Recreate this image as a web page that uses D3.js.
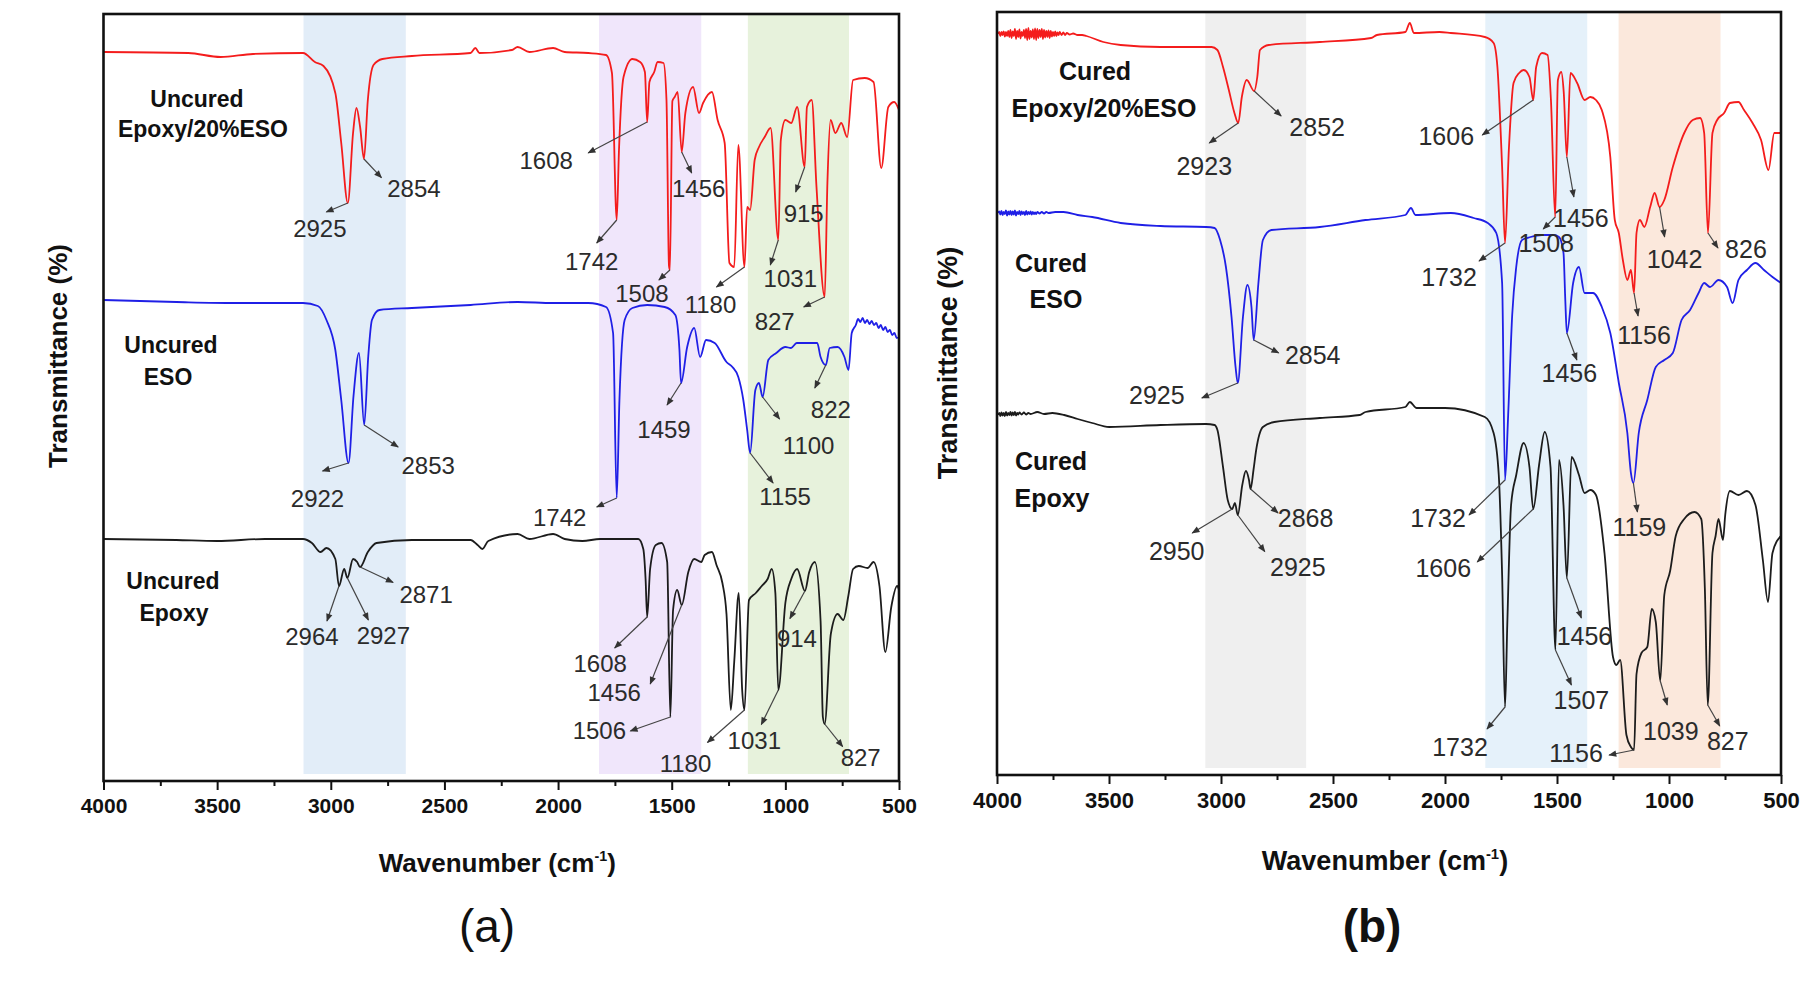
<!DOCTYPE html>
<html>
<head>
<meta charset="utf-8">
<script src="https://cdn.jsdelivr.net/npm/d3@7"></script>
<style>
  body { margin: 0; background: #fff; }
  svg text { font-family: "Liberation Sans", Arial, sans-serif; }
</style>
</head>
<body>
<svg id="chart" width="1815" height="987"></svg>
<script>
// ---- data (wavenumber cm-1, transmittance a.u.) ----
const majorTicks = [4000, 3500, 3000, 2500, 2000, 1500, 1000, 500];
const minorTicks = [3750, 3250, 2750, 2250, 1750, 1250, 750];

const uncuredMix = [[4000,72.9],[3627,72.8],[3485,72.4],[3342,72.7],[3122,72.8],[3070,71.9],[3032,71.5],[2980,68.8],[2954,63.8],[2925,57.8],[2902,64.8],[2887,67.3],[2871,65.4],[2854,62.2],[2837,68.1],[2812,71.6],[2773,72.2],[2643,72.5],[2385,72.8],[2364,73.3],[2346,72.8],[2203,73.1],[2178,73.4],[2126,72.9],[2022,73.3],[1971,72.9],[1867,72.8],[1789,72.6],[1763,70.8],[1742,56.1],[1732,63.1],[1712,70.4],[1673,72.2],[1639,71.9],[1618,70.9],[1608,65.9],[1598,69.9],[1577,70.9],[1562,71.9],[1536,71.8],[1523,68.1],[1512,51.5],[1508,51.1],[1497,68.0],[1487,68.4],[1474,68.9],[1456,62.9],[1440,66.8],[1406,69.4],[1380,66.8],[1362,67.8],[1323,68.9],[1298,66.1],[1267,63.8],[1246,51.8],[1225,51.4],[1207,63.6],[1180,51.4],[1168,57.4],[1155,57.1],[1135,62.1],[1116,63.4],[1091,64.4],[1065,65.3],[1031,54.1],[1020,64.1],[1000,66.1],[974,65.8],[948,67.4],[915,61.4],[905,67.4],[884,68.1],[863,59.4],[827,48.4],[815,59.8],[801,66.1],[780,64.8],[754,65.8],[728,64.4],[702,70.1],[651,70.3],[612,69.9],[578,61.3],[547,67.4],[521,67.9],[500,67.1]];
const uncuredEso = [[4000,48.1],[3679,47.9],[3420,47.8],[3122,47.8],[3057,47.5],[3019,46.1],[2980,43.1],[2954,38.1],[2922,31.8],[2900,38.5],[2876,42.8],[2853,35.6],[2835,42.5],[2819,46.1],[2786,47.1],[2643,47.3],[2385,47.6],[2178,47.9],[2022,47.8],[1867,47.8],[1789,47.4],[1758,44.8],[1742,28.3],[1730,38.1],[1707,46.1],[1673,47.3],[1608,47.6],[1531,47.4],[1484,46.6],[1466,43.1],[1459,39.8],[1432,43.4],[1401,45.3],[1375,42.4],[1349,44.1],[1311,43.8],[1259,41.9],[1233,41.4],[1207,40.4],[1185,38.1],[1168,35.1],[1155,32.8],[1132,39.1],[1116,39.8],[1100,38.4],[1075,42.1],[1040,42.8],[1000,43.4],[975,43.3],[950,43.8],[860,43.8],[845,42.4],[822,41.6],[805,43.3],[770,43.4],[740,42.4],[722,41.1],[708,44.8],[690,45.6],[680,46.2],[670,45.9],[660,46.3],[650,45.8],[640,46.1],[630,45.7],[620,46.0],[610,45.6],[600,45.8],[590,45.3],[580,45.6],[570,45.1],[560,45.4],[550,44.9],[540,45.1],[530,44.6],[520,44.8],[510,44.3],[500,44.4]];
const uncuredEpoxy = [[4000,24.2],[3680,24.1],[3500,24.0],[3290,24.2],[3122,24.2],[3083,23.8],[3045,22.9],[3019,23.3],[2980,22.2],[2964,19.5],[2941,21.2],[2927,20.3],[2902,22.2],[2884,21.9],[2871,21.4],[2837,22.9],[2799,23.8],[2643,24.1],[2385,24.1],[2354,23.6],[2333,23.2],[2307,24.0],[2178,24.7],[2126,24.2],[2022,24.7],[1971,24.2],[1893,24.0],[1815,24.2],[1738,24.2],[1647,24.2],[1625,23.2],[1615,20.2],[1608,16.4],[1595,21.2],[1570,23.6],[1545,23.8],[1520,21.9],[1506,6.4],[1494,17.1],[1476,19.1],[1456,17.6],[1427,20.9],[1401,22.2],[1370,21.9],[1355,22.6],[1323,22.9],[1303,21.6],[1277,19.8],[1259,16.7],[1240,7.1],[1225,11.9],[1205,18.8],[1190,9.1],[1180,7.1],[1160,18.1],[1130,18.8],[1104,19.5],[1078,20.2],[1060,21.2],[1044,18.8],[1031,9.1],[1000,17.8],[974,20.2],[948,21.2],[914,19.0],[895,20.9],[870,21.9],[845,16.0],[835,6.4],[827,5.7],[800,14.7],[770,16.7],[745,16.1],[723,18.5],[702,21.2],[677,21.5],[638,21.3],[612,21.9],[586,19.5],[560,12.9],[534,17.4],[508,19.5],[500,19.1]];

const curedMix = [[3995,74.1],[3990,74.3],[3985,73.9],[3980,74.3],[3975,74.0],[3970,74.35],[3965,73.85],[3960,74.3],[3955,73.9],[3950,74.4],[3945,73.8],[3940,74.5],[3935,73.7],[3930,74.35],[3925,73.9],[3920,74.6],[3915,73.6],[3910,74.4],[3905,73.8],[3900,74.55],[3895,73.65],[3890,74.3],[3885,73.9],[3880,74.5],[3875,73.7],[3870,74.6],[3865,73.5],[3860,74.7],[3855,73.6],[3850,74.4],[3845,73.75],[3840,74.55],[3835,73.6],[3830,74.65],[3825,73.5],[3820,74.6],[3815,73.7],[3810,74.5],[3805,73.8],[3800,74.6],[3795,73.6],[3790,74.5],[3785,73.75],[3780,74.4],[3775,73.8],[3770,74.45],[3765,73.7],[3760,74.4],[3755,73.85],[3750,74.3],[3745,73.9],[3740,74.35],[3735,73.9],[3730,74.25],[3725,74.0],[3720,74.3],[3712,74.0],[3704,74.25],[3696,74.0],[3688,74.2],[3676,74.05],[3660,74.15],[3640,74.0],[3620,74.0],[3601,73.9],[3525,73.3],[3448,73.0],[3270,72.8],[3080,72.8],[3042,72.8],[3016,72.5],[2991,70.8],[2965,68.5],[2940,66.2],[2923,65.2],[2907,67.8],[2885,69.5],[2852,68.4],[2838,69.8],[2826,72.5],[2787,73.0],[2559,73.3],[2330,73.7],[2304,74.0],[2177,74.3],[2157,75.2],[2139,74.2],[2025,74.3],[1974,74.2],[1822,73.8],[1783,73.2],[1766,70.8],[1745,60.8],[1732,53.2],[1715,62.5],[1694,69.2],[1669,70.2],[1649,70.5],[1623,69.8],[1606,67.5],[1593,70.8],[1567,72.2],[1542,72.0],[1527,67.5],[1508,55.8],[1496,69.5],[1481,70.3],[1470,68.3],[1456,61.8],[1440,70.2],[1410,69.2],[1377,67.5],[1351,67.8],[1326,67.5],[1300,66.5],[1262,61.8],[1242,55.5],[1224,54.2],[1206,51.5],[1186,49.5],[1170,50.5],[1156,48.2],[1145,54.2],[1130,55.5],[1110,54.8],[1084,56.8],[1064,58.2],[1042,56.8],[1021,57.5],[983,60.8],[932,64.2],[894,65.5],[861,65.7],[843,64.2],[826,54.2],[806,64.2],[785,65.5],[754,66.2],[728,67.2],[690,67.3],[665,66.5],[627,65.2],[589,63.5],[556,60.5],[530,64.2],[500,64.2]];
const curedEso = [[3995,56.2],[3990,56.35],[3985,56.05],[3980,56.4],[3975,56.0],[3970,56.3],[3965,56.1],[3960,56.45],[3955,55.95],[3950,56.35],[3945,56.05],[3940,56.4],[3935,56.0],[3930,56.35],[3925,56.05],[3920,56.45],[3915,55.95],[3910,56.3],[3905,56.1],[3900,56.4],[3895,56.0],[3890,56.35],[3885,56.1],[3880,56.3],[3875,56.0],[3870,56.4],[3865,56.05],[3860,56.3],[3855,56.1],[3850,56.35],[3845,56.05],[3840,56.3],[3835,56.1],[3830,56.25],[3825,56.1],[3820,56.3],[3810,56.15],[3800,56.3],[3790,56.15],[3780,56.3],[3770,56.2],[3740,56.3],[3703,56.3],[3640,56.0],[3575,55.8],[3448,55.2],[3270,54.9],[3067,54.8],[3029,54.7],[3004,53.5],[2978,50.8],[2953,45.8],[2935,40.8],[2925,39.2],[2902,45.8],[2882,49.0],[2864,46.8],[2854,43.5],[2833,49.2],[2813,53.5],[2775,54.5],[2559,54.8],[2355,55.5],[2177,56.0],[2152,56.7],[2132,56.0],[1974,56.2],[1872,55.7],[1809,55.2],[1771,54.2],[1745,49.2],[1732,29.5],[1718,36.0],[1700,46.0],[1682,50.8],[1656,53.5],[1618,53.8],[1567,54.0],[1516,54.0],[1491,53.8],[1471,52.2],[1463,47.5],[1456,44.2],[1428,49.2],[1402,50.8],[1377,48.2],[1339,48.2],[1300,46.8],[1262,44.2],[1224,39.2],[1186,34.2],[1170,30.2],[1159,29.2],[1135,34.2],[1097,37.5],[1059,40.8],[1021,41.5],[983,42.2],[944,45.5],[906,46.5],[868,48.2],[843,49.2],[817,48.8],[779,49.5],[741,48.8],[716,47.2],[690,49.5],[652,50.5],[614,51.2],[576,50.5],[538,49.8],[500,49.2]];
const curedEpoxy = [[3995,36.0],[3990,36.2],[3985,35.9],[3980,36.25],[3975,35.95],[3970,36.2],[3965,35.9],[3960,36.3],[3955,35.95],[3950,36.2],[3945,36.0],[3940,36.3],[3935,35.95],[3930,36.25],[3925,36.0],[3920,36.3],[3915,35.95],[3910,36.2],[3905,36.05],[3900,36.25],[3890,36.05],[3880,36.25],[3870,36.05],[3860,36.2],[3850,36.1],[3820,36.3],[3790,36.1],[3753,36.2],[3700,36.0],[3640,35.6],[3575,35.2],[3499,34.8],[3270,35.0],[3067,35.1],[3029,35.0],[3016,34.5],[2991,30.8],[2970,27.5],[2950,26.6],[2938,27.2],[2925,26.0],[2905,29.0],[2889,30.4],[2875,29.5],[2868,28.6],[2855,30.5],[2843,32.5],[2813,34.8],[2762,35.3],[2559,35.7],[2381,36.0],[2355,36.3],[2177,36.8],[2157,37.3],[2127,36.7],[2000,36.7],[1822,35.8],[1783,34.2],[1760,30.0],[1745,20.0],[1732,6.8],[1722,15.0],[1705,27.0],[1682,30.0],[1649,33.2],[1623,30.8],[1606,26.6],[1580,31.0],[1555,34.3],[1529,30.8],[1507,12.5],[1491,31.5],[1471,27.0],[1456,19.7],[1435,31.8],[1402,30.0],[1377,28.2],[1351,28.5],[1326,28.0],[1288,22.2],[1250,11.8],[1235,11.0],[1218,11.5],[1190,4.0],[1170,2.8],[1156,2.5],[1145,10.1],[1123,12.2],[1097,12.8],[1077,16.6],[1059,15.3],[1039,9.4],[1021,18.0],[995,20.4],[970,23.9],[932,25.6],[886,26.3],[856,25.6],[840,18.7],[827,7.0],[806,22.2],[792,23.9],[779,25.6],[759,23.5],[749,26.0],[728,28.4],[690,28.0],[652,28.4],[614,27.0],[581,21.5],[558,17.3],[538,22.2],[500,23.9]];

// highlighted regions (cm-1)
const bandsA = [[3120, 2670], [1820, 1370], [1165, 720]];
const bandsB = [[3070, 2620], [1820, 1365], [1225, 770]];

// peak marks: [series, wavenumber]
const peaksA = [[0,2925],[0,2854],[0,1742],[0,1608],[0,1508],[0,1456],[0,1180],[0,1031],[0,915],[0,827],
  [1,2922],[1,2853],[1,1742],[1,1459],[1,1155],[1,1100],[1,822],
  [2,2964],[2,2927],[2,2871],[2,1608],[2,1456],[2,1506],[2,1180],[2,1031],[2,914],[2,827]];
const peaksB = [[0,2923],[0,2852],[0,1732],[0,1606],[0,1508],[0,1456],[0,1156],[0,1042],[0,826],
  [1,2925],[1,2854],[1,1732],[1,1456],[1,1159],
  [2,2950],[2,2925],[2,2868],[2,1732],[2,1606],[2,1456],[2,1507],[2,1156],[2,1039],[2,827]];

const namesA = [["Uncured", "Epoxy/20%ESO"], ["Uncured", "ESO"], ["Uncured", "Epoxy"]];
const namesB = [["Cured", "Epoxy/20%ESO"], ["Cured", "ESO"], ["Cured", "Epoxy"]];

// ---- layout ----
// callout offsets in px from the peak: [arrow dx, arrow dy, label dx, label dy]
const calloutA = [[-21.5,9,-28,34],[17.5,18.7,50,38],[-20,23,-25,50],[-59,31,-101,47],[-11,10,-28,32],[10,21,17,45],[-28,20,-34,46],[-8,25,12,47],[-9,25,-1,55],[-21,10,-50,33],
  [-26,8,-31,44],[34,22,64,49],[-20,9,-57,28],[-14,22,-17,55],[23,30,35,52],[17,22,46,57],[-11,23,5,53],
  [-12,35,-27,59],[21,42,36,66],[33,15.5,66,36],[-32.5,31,-47,55],[-31.5,79,-67.5,96],[-40,14,-71,22],[-37,32.5,-59,62],[-17,34.6,-24,59],[-15,27.6,-8,55.5],[18,22.7,36,42]];
const calloutB = [[-29,20,-34,52],[27,25,63,45],[-26,18,-56,43],[-51,35,-87,45],[-12,12,-9,35],[7,40,14,70],[4,23,10,51],[5,30,15,61],[10,15,38,25],
  [-36,15,-81,21],[25,13,59,24],[-36,35,-67,47],[10,27,2.5,49],[4,29,6,53],
  [-40,24,-55.5,51],[27,36.6,60,61],[27.5,24,55,38],[-18,22,-45,49],[-56,53,-90,68],[14.5,40,17.6,66.6],[16,35,26,59],[-25,5,-58,12],[7,24,10.6,59],[12,21,20,45]];

const colors = ["#f41c1c", "#1f1fe6", "#1c1c1c"];

const svg = d3.select("#chart");

svg.append("defs").append("marker")
  .attr("id", "arr")
  .attr("viewBox", "0 0 10 10")
  .attr("refX", 9).attr("refY", 5)
  .attr("markerWidth", 9).attr("markerHeight", 8)
  .attr("markerUnits", "userSpaceOnUse")
  .attr("orient", "auto")
  .append("path")
  .attr("d", "M0,1 L10,5 L0,9 Z")
  .attr("fill", "#333");

function valueAt(series, w) {
  for (let i = 0; i < series.length - 1; i++) {
    const a = series[i], b = series[i + 1];
    if (w <= a[0] && w >= b[0]) {
      const t = (a[0] - w) / (a[0] - b[0]);
      return a[1] + t * (b[1] - a[1]);
    }
  }
  return series[series.length - 1][1];
}

function drawPanel(p) {
  const x = d3.scaleLinear().domain([4000, 500]).range([p.left, p.right]);
  const y = d3.scaleLinear().domain([0, p.vmax]).range([p.bottom, p.top]);
  const g = svg.append("g");

  g.selectAll(".band").data(p.bands).enter()
    .append("rect")
    .attr("x", d => x(d[0]))
    .attr("width", d => x(d[1]) - x(d[0]))
    .attr("y", y(p.vmax))
    .attr("height", y(0.7) - y(p.vmax))
    .attr("fill", (d, i) => p.bandColors[i]);

  const line = d3.line()
    .x(d => x(d[0]))
    .y(d => y(d[1]))
    .curve(d3.curveMonotoneX);

  g.selectAll(".spec").data(p.series).enter()
    .append("path")
    .attr("d", d => line(d))
    .attr("fill", "none")
    .attr("stroke", (d, i) => colors[i])
    .attr("stroke-width", 1.8)
    .attr("stroke-linejoin", "round");

  // series names
  p.names.forEach((nm, i) => {
    nm.forEach((t, j) => {
      g.append("text")
        .attr("x", p.namePos[i][j][0])
        .attr("y", p.namePos[i][j][1])
        .attr("text-anchor", "middle")
        .attr("font-size", p.nameSize)
        .attr("font-weight", "bold")
        .attr("fill", "#111")
        .text(t);
    });
  });

  // peak callouts
  p.peaks.forEach((pk, i) => {
    const c = p.callout[i];
    const px = x(pk[1]), py = y(valueAt(p.series[pk[0]], pk[1]));
    g.append("line")
      .attr("x1", px).attr("y1", py)
      .attr("x2", px + c[0]).attr("y2", py + c[1])
      .attr("stroke", "#444")
      .attr("stroke-width", 1.2)
      .attr("marker-end", "url(#arr)");
    g.append("text")
      .attr("x", px + c[2]).attr("y", py + c[3])
      .attr("text-anchor", "middle")
      .attr("font-size", p.peakSize)
      .attr("fill", "#2b2b2b")
      .text(pk[1]);
  });

  // frame
  g.append("rect")
    .attr("x", p.left).attr("y", p.top)
    .attr("width", p.right - p.left).attr("height", p.bottom - p.top)
    .attr("fill", "none")
    .attr("stroke", "#111")
    .attr("stroke-width", 2.6);

  const ax = g.append("g")
    .attr("transform", `translate(0,${p.bottom})`)
    .call(d3.axisBottom(x).tickValues(majorTicks).tickSize(9).tickPadding(8).tickFormat(d3.format("d")));
  ax.select(".domain").remove();
  ax.selectAll("line").attr("stroke", "#111").attr("stroke-width", 2);
  ax.selectAll("text")
    .attr("font-size", p.tickSize)
    .attr("font-weight", "bold")
    .attr("font-family", "Liberation Sans, Arial, sans-serif")
    .attr("fill", "#111");

  const mx = g.append("g")
    .attr("transform", `translate(0,${p.bottom})`)
    .call(d3.axisBottom(x).tickValues(minorTicks).tickSize(5).tickFormat(""));
  mx.select(".domain").remove();
  mx.selectAll("line").attr("stroke", "#111").attr("stroke-width", 2);

  const xl = g.append("text")
    .attr("x", (p.left + p.right) / 2 - 4)
    .attr("y", p.xLabelY)
    .attr("text-anchor", "middle")
    .attr("font-size", p.labelSize)
    .attr("font-weight", "bold")
    .attr("fill", "#111");
  xl.append("tspan").text("Wavenumber (cm");
  xl.append("tspan").attr("dy", -11).attr("font-size", p.labelSize * 0.55).text("-1");
  xl.append("tspan").attr("dy", 11).text(")");

  g.append("text")
    .attr("transform", `translate(${p.yLabel[0]},${p.yLabel[1]}) rotate(-90)`)
    .attr("text-anchor", "middle")
    .attr("font-size", p.labelSize)
    .attr("font-weight", "bold")
    .attr("fill", "#111")
    .text("Transmittance (%)");

  g.append("text")
    .attr("x", p.tag[0]).attr("y", p.tag[1])
    .attr("text-anchor", "middle")
    .attr("font-family", "Open Sans, Noto Sans, sans-serif")
    .attr("font-size", 46)
    .attr("font-weight", p.tagWeight)
    .attr("fill", "#111")
    .text(p.tagText);
}

drawPanel({
  left: 103.5, right: 899, top: 14, bottom: 781, vmax: 76.7,
  bands: bandsA, bandColors: ["#e2edf8", "#f0e6fb", "#e7f2dc"],
  series: [uncuredMix, uncuredEso, uncuredEpoxy],
  names: namesA, namePos: [[[197, 107], [203, 137]], [[171, 353], [168, 385]], [[173, 589], [174, 621]]],
  nameSize: 23, peakSize: 24, tickSize: 21, labelSize: 26,
  peaks: peaksA, callout: calloutA,
  xLabelY: 872, yLabel: [67, 356], tag: [487, 942], tagText: "(a)", tagWeight: "normal"
});

drawPanel({
  left: 997, right: 1781, top: 12, bottom: 775, vmax: 76.3,
  bands: bandsB, bandColors: ["#efefef", "#e5f1fa", "#fbe8dc"],
  series: [curedMix, curedEso, curedEpoxy],
  names: namesB, namePos: [[[1095, 80], [1104, 117]], [[1051, 272], [1056, 308]], [[1051, 470], [1052, 507]]],
  nameSize: 25, peakSize: 25, tickSize: 22, labelSize: 27,
  peaks: peaksB, callout: calloutB,
  xLabelY: 870, yLabel: [957, 363], tag: [1372, 942], tagText: "(b)", tagWeight: "bold"
});
</script>
</body>
</html>
